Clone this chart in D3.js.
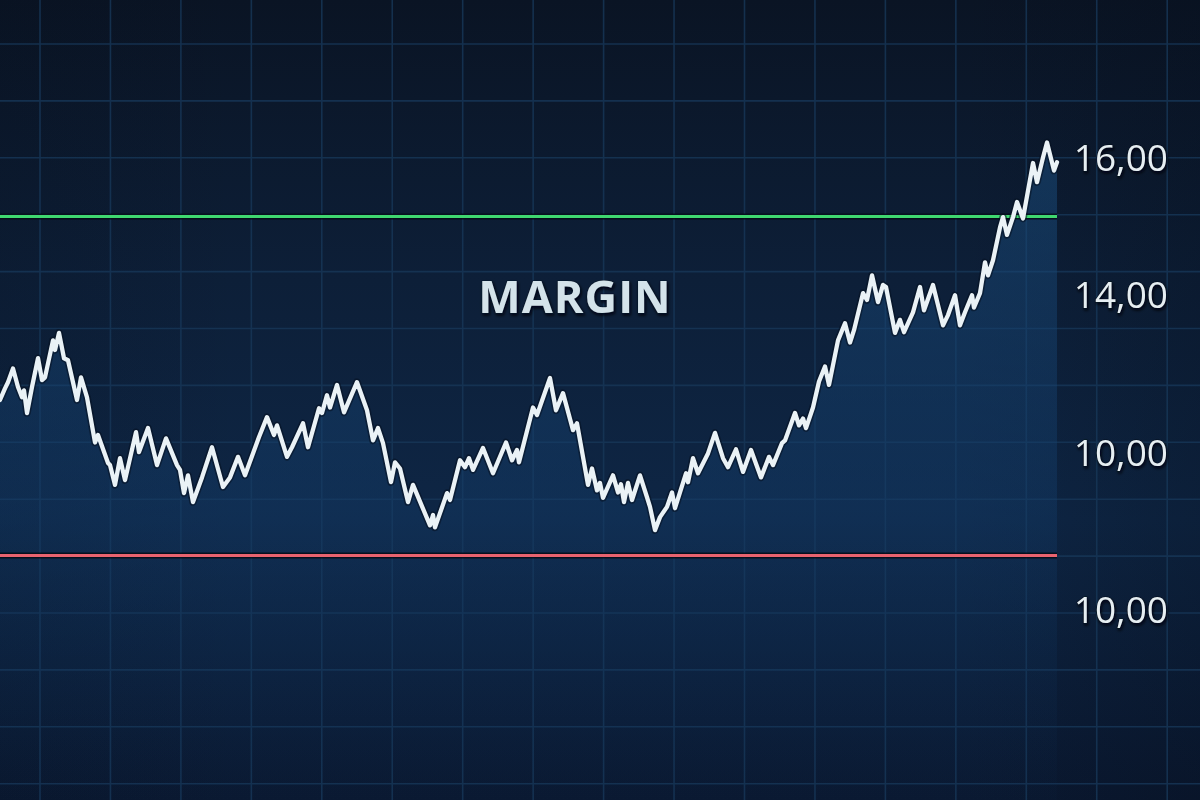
<!DOCTYPE html>
<html><head><meta charset="utf-8">
<script src="https://cdn.jsdelivr.net/npm/d3@7"></script>
<style>html,body{margin:0;padding:0;background:#0b1829;}svg{display:block;}</style>
</head><body><svg id="chart" width="1200" height="800"></svg>
<script>
// ---- data ----
const times = [0,5,8,13,18,22,24,27,32,38,42,45,53,55,59,64,68,77,81,87,95,98,108,110,115,120,125,136,139,148,157,166,177,180,184,188,193,202,212,223,230,238,245,259,267,274,277,287,292,303,308,319,322,327,330,337,344,357,367,373,378,383,391,395,400,408,413,430,433,435,447,450,460,465,469,473,483,493,506,512,517,519,533,537,550,556,563,573,577,588,592,597,600,603,613,618,621,624,628,632,640,647,650,655,660,667,672,675,686,688,693,698,708,715,723,728,736,743,751,761,769,773,782,785,795,799,803,806,813,819,825,829,838,845,850,854,863,867,872,878,883,886,895,900,904,913,920,924,933,943,948,955,960,965,972,974,980,985,988,993,1000,1003,1007,1013,1017,1023,1033,1037,1043,1047,1054,1057];
const prices = [12.47,12.64,12.73,12.93,12.66,12.51,12.61,12.28,12.66,13.08,12.76,12.80,13.34,13.20,13.45,13.08,13.05,12.47,12.80,12.51,11.85,11.96,11.55,11.52,11.23,11.62,11.30,12.00,11.71,12.06,11.52,11.91,11.52,11.45,11.11,11.37,10.98,11.34,11.78,11.20,11.34,11.64,11.37,11.93,12.22,11.96,12.10,11.64,11.78,12.13,11.78,12.35,12.28,12.54,12.36,12.69,12.29,12.73,12.32,11.88,12.06,11.84,11.27,11.56,11.47,10.98,11.23,10.64,10.79,10.61,11.11,11.01,11.59,11.49,11.62,11.45,11.77,11.40,11.85,11.59,11.74,11.56,12.36,12.25,12.79,12.32,12.57,12.03,12.13,11.23,11.47,11.15,11.26,11.04,11.37,11.12,11.24,10.98,11.26,11.01,11.37,11.05,10.91,10.57,10.76,10.91,11.12,10.89,11.40,11.27,11.62,11.40,11.69,11.99,11.62,11.49,11.75,11.42,11.74,11.34,11.64,11.52,11.84,11.88,12.28,12.10,12.20,12.06,12.36,12.74,12.96,12.69,13.34,13.59,13.31,13.49,14.03,13.93,14.29,13.90,14.15,14.12,13.45,13.64,13.46,13.75,14.12,13.78,14.15,13.56,13.71,14.00,13.56,13.75,14.00,13.82,14.03,14.48,14.29,14.51,14.99,15.14,14.88,15.14,15.36,15.12,15.93,15.65,16.01,16.23,15.82,15.94];
const upperLevel = 15.15;   // green line
const lowerLevel = 10.20;   // red line
const tickValues = [16.0, 14.0, 11.69, 9.39];
const tickLabels = ["16,00", "14,00", "10,00", "10,00"];
const title = "MARGIN";

// ---- layout ----
const W = 1200, H = 800;
const svg = d3.select("#chart");
const plotRight = 1057;

const x = d3.scaleLinear().domain([0, 1057]).range([0, plotRight]);
const y = d3.scaleLinear().domain([6.63, 18.31]).range([H, 0]);

const defs = svg.append("defs");
const bg = defs.append("linearGradient").attr("id","bg").attr("x1",0).attr("y1",0).attr("x2",0).attr("y2",1);
bg.append("stop").attr("offset","0%").attr("stop-color","#0a1424");
bg.append("stop").attr("offset","35%").attr("stop-color","#0d1f38");
bg.append("stop").attr("offset","65%").attr("stop-color","#0e2645");
bg.append("stop").attr("offset","100%").attr("stop-color","#0a1830");

const vig = defs.append("linearGradient").attr("id","vig").attr("x1",0).attr("y1",0).attr("x2",1).attr("y2",0);
vig.append("stop").attr("offset","0%").attr("stop-color","#050c18").attr("stop-opacity",0.15);
vig.append("stop").attr("offset","20%").attr("stop-color","#050c18").attr("stop-opacity",0);
vig.append("stop").attr("offset","80%").attr("stop-color","#050c18").attr("stop-opacity",0);
vig.append("stop").attr("offset","100%").attr("stop-color","#050c18").attr("stop-opacity",0.25);

const areaG = defs.append("linearGradient").attr("id","areaG").attr("gradientUnits","userSpaceOnUse")
  .attr("x1",0).attr("y1",140).attr("x2",0).attr("y2",800);
areaG.append("stop").attr("offset","0%").attr("stop-color","#1a4c7c").attr("stop-opacity",0.55);
areaG.append("stop").attr("offset","55%").attr("stop-color","#144070").attr("stop-opacity",0.35);
areaG.append("stop").attr("offset","100%").attr("stop-color","#0e2f55").attr("stop-opacity",0.05);

const shadow = defs.append("filter").attr("id","shadow").attr("x","-10%").attr("y","-30%").attr("width","120%").attr("height","160%");
shadow.append("feDropShadow").attr("dx",1).attr("dy",2).attr("stdDeviation",1.5).attr("flood-color","#02060c").attr("flood-opacity",0.9);

svg.append("rect").attr("width",W).attr("height",H).attr("fill","url(#bg)");
svg.append("rect").attr("width",W).attr("height",H).attr("fill","url(#vig)");

// grid (background texture)
const grid = svg.append("g").attr("stroke","#173758").attr("stroke-width",1.6).attr("opacity",0.8);
grid.selectAll("line.v").data(d3.range(40, W, 70.45)).join("line")
  .attr("x1",d=>d).attr("x2",d=>d).attr("y1",0).attr("y2",H);
grid.selectAll("line.h").data(d3.range(44, H, 56.9)).join("line")
  .attr("x1",0).attr("x2",W).attr("y1",d=>d).attr("y2",d=>d);

const pts = times.map((t,i)=>({t, p: prices[i]}));

// area under the line
svg.append("path").datum(pts)
  .attr("d", d3.area().x(d=>x(d.t)).y0(H).y1(d=>y(d.p)))
  .attr("fill","url(#areaG)");

// level lines
function level(v, color){
  svg.append("line").attr("x1",0).attr("x2",plotRight).attr("y1",y(v)).attr("y2",y(v))
    .attr("stroke","#040a14").attr("stroke-width",6).attr("opacity",0.8);
  svg.append("line").attr("x1",0).attr("x2",plotRight).attr("y1",y(v)).attr("y2",y(v))
    .attr("stroke",color).attr("stroke-width",3);
}
level(upperLevel, "#3fd870");
level(lowerLevel, "#e8636f");

// price line
const line = d3.line().x(d=>x(d.t)).y(d=>y(d.p)).curve(d3.curveLinear);
svg.append("path").datum(pts).attr("d",line).attr("fill","none")
  .attr("stroke","#061020").attr("stroke-width",7.5).attr("stroke-linejoin","round").attr("opacity",0.55);
svg.append("path").datum(pts).attr("d",line).attr("fill","none")
  .attr("stroke","#eaf2f6").attr("stroke-width",4.3).attr("stroke-linejoin","round").attr("stroke-linecap","round");

// title
svg.append("text").attr("x",575).attr("y",313).attr("text-anchor","middle")
  .attr("font-family","'Open Sans', 'DejaVu Sans', sans-serif").attr("font-weight",700)
  .attr("font-size",45).attr("letter-spacing",1)
  .attr("fill","#d4e3ea").attr("stroke","#0a1628").attr("stroke-width",1.2).attr("paint-order","stroke")
  .attr("filter","url(#shadow)").text(title);

// y axis labels
const axis = d3.axisRight(y).tickValues(tickValues).tickFormat((d,i)=>tickLabels[i]).tickSize(0).tickPadding(0);
const ag = svg.append("g").attr("transform","translate(1168,0)").call(axis);
ag.select(".domain").remove();
ag.selectAll("text").attr("text-anchor","end").attr("x",0).attr("dy","0.32em")
  .attr("font-family","'Open Sans', 'Noto Sans', sans-serif").attr("font-size",37).attr("font-weight",400)
  .attr("fill","#e6eef2").attr("stroke","#07101c").attr("stroke-width",1).attr("paint-order","stroke")
  .attr("filter","url(#shadow)");
</script></body></html>
